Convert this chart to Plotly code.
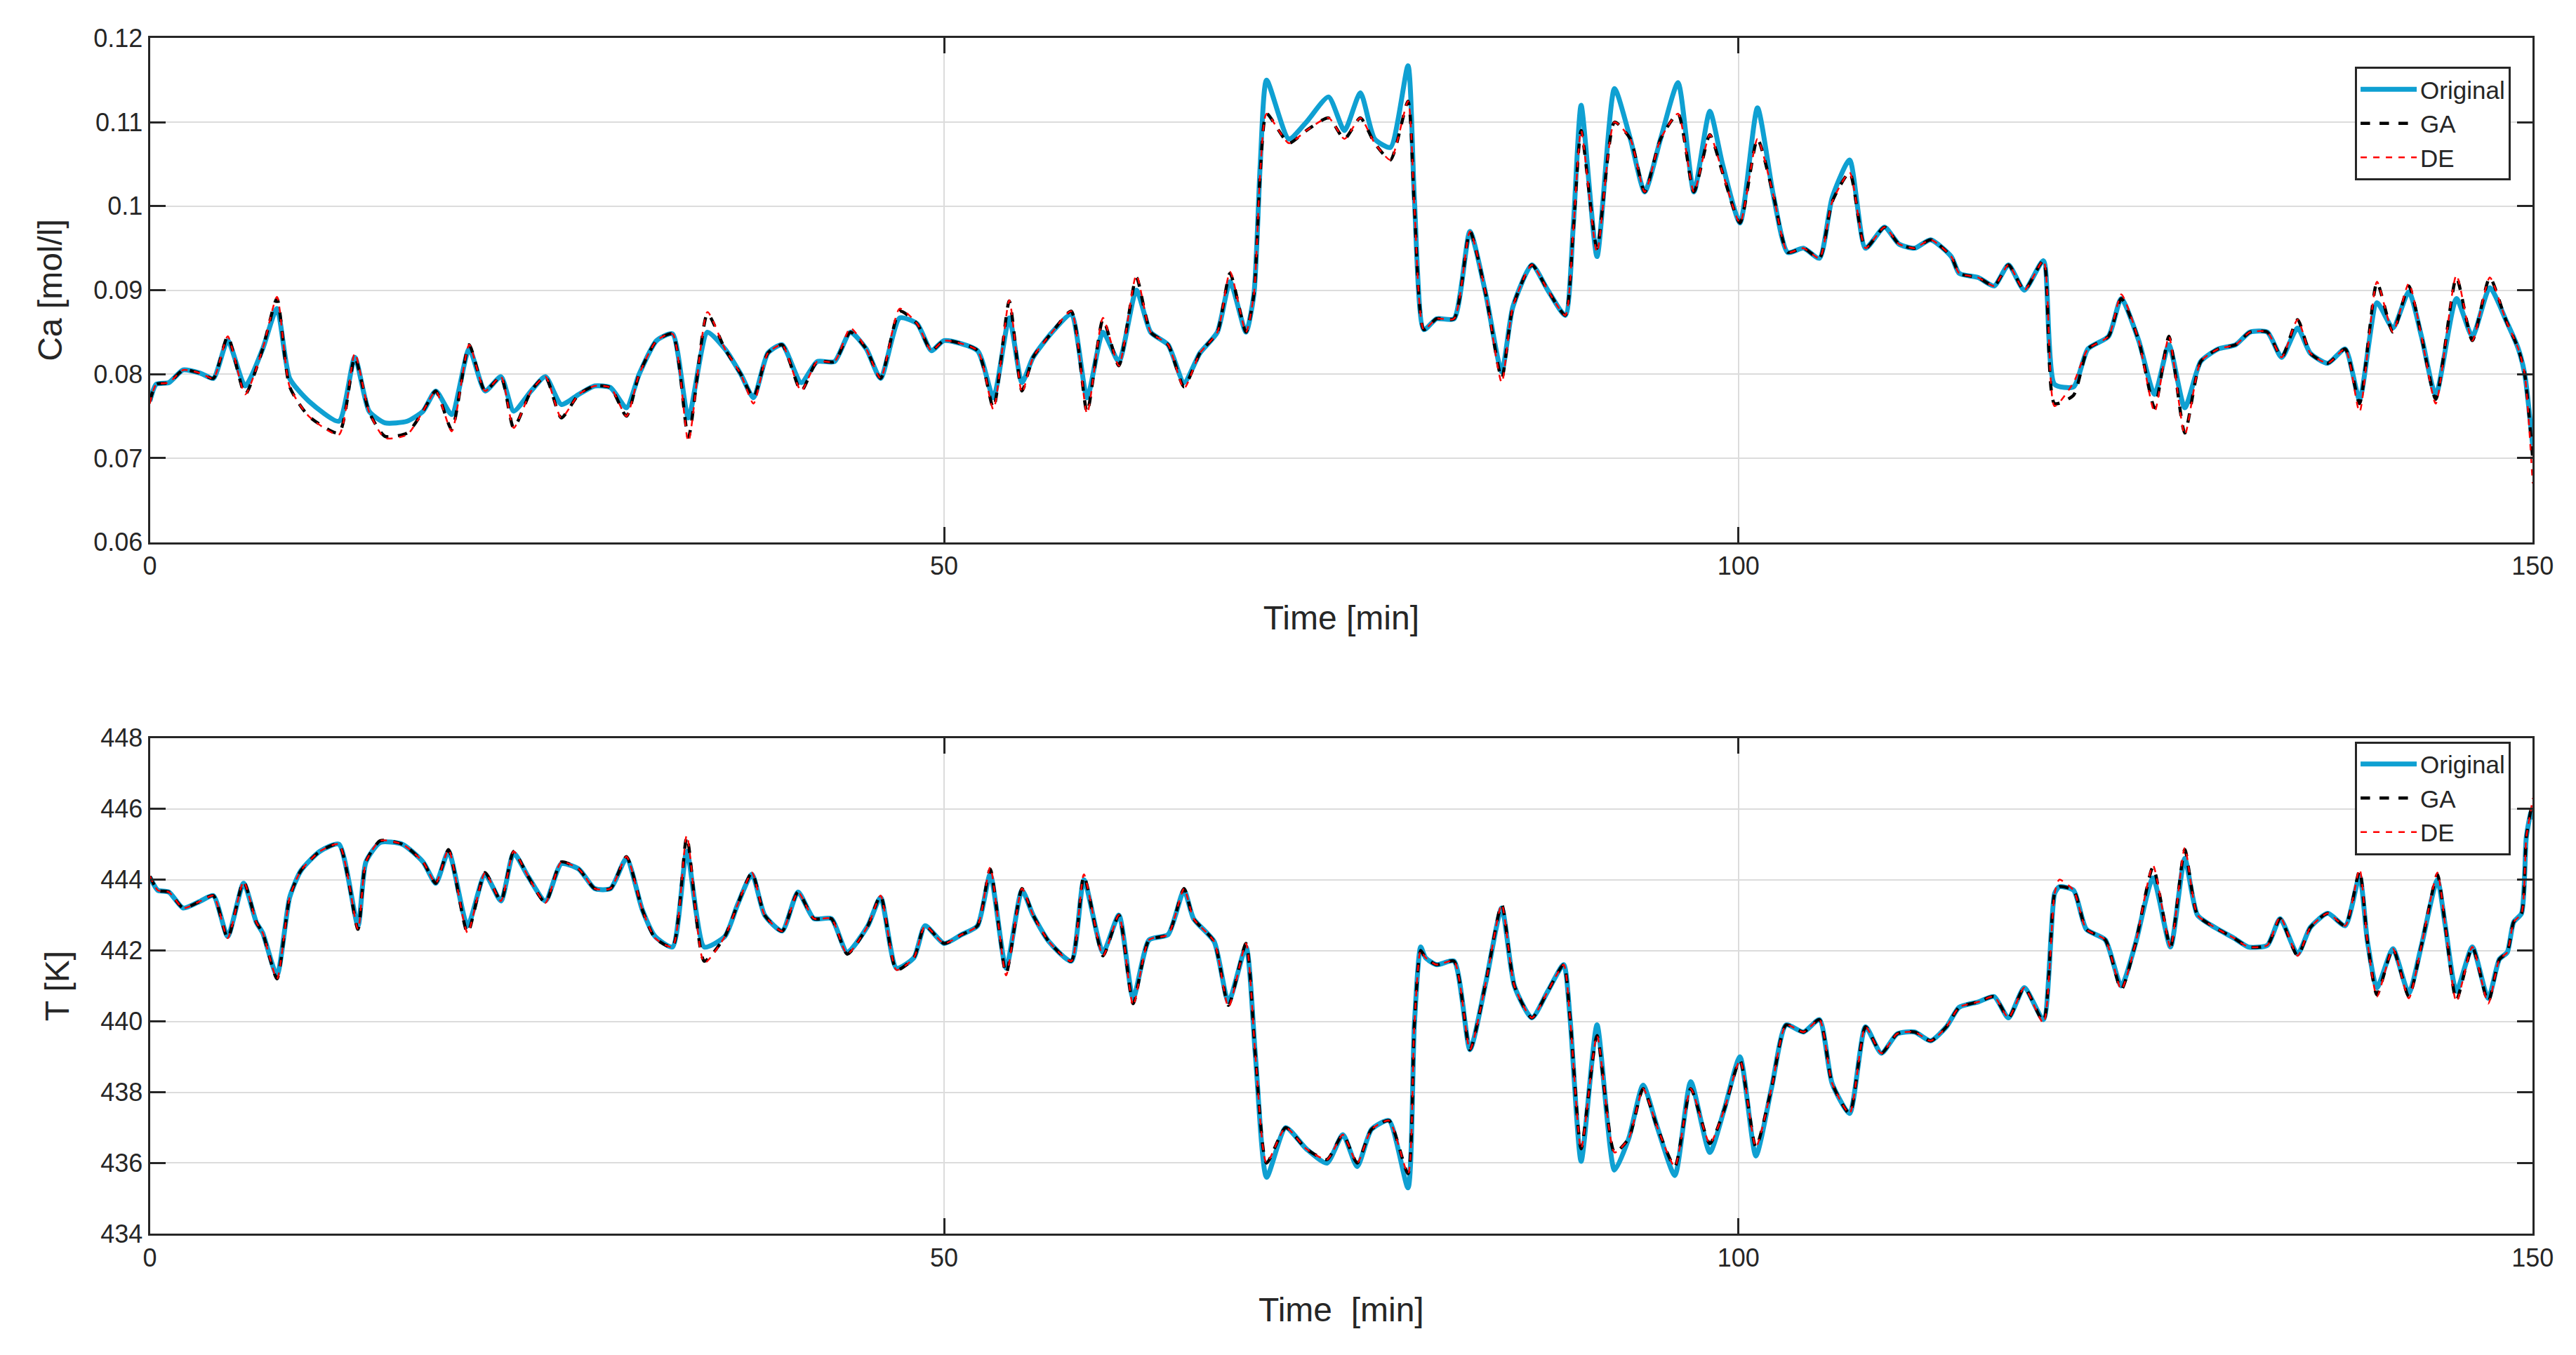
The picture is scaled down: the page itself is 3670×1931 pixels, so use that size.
import plotly.graph_objects as go
from plotly.subplots import make_subplots

# Ca panel
t_ca = [0, 0.4, 1.2, 2.1, 3.2, 4.0, 4.9, 6.0, 7.1, 8.0, 8.8, 10.0, 11.9, 12.9, 13.8, 14.8, 16.2, 17.2, 18.0, 19.0,
        20.1, 21.1, 22.1, 22.9, 24.0, 24.9, 25.9, 27.0, 28.0, 29.0, 30.0, 30.8, 31.9, 32.9, 33.9, 35.1, 36.2, 37.2, 38.0, 38.9,
        39.8, 41.0, 42.0, 43.1, 44.1, 45.1, 46.0, 47.2, 48.3, 49.2, 50.0, 52.1, 53.1, 54.1, 54.9, 55.6, 56.8, 58.0, 59.0, 60.0,
        61.0, 62.1, 63.0, 64.1, 65.1, 66.1, 67.2, 68.0, 69.0, 69.5, 69.9, 70.3, 71.7, 72.8, 74.2, 75.2, 76.2, 77.1, 78.1, 79.2,
        79.6, 80.2, 81.0, 82.1, 83.1, 84.1, 85.1, 85.8, 87.0, 88.0, 89.1, 89.6, 90.1, 91.1, 92.2, 93.2, 94.1, 95.1, 96.2, 97.2,
        98.2, 99.0, 100.1, 101.2, 102.2, 103.1, 104.1, 105.1, 105.9, 107.0, 108.0, 109.2, 110.1, 111.1, 112.1, 113.4, 113.9, 115.1, 116.1, 117.0,
        118.0, 119.2, 119.9, 121.1, 122.0, 123.3, 124.1, 125.2, 126.2, 127.1, 128.1, 129.1, 130.2, 131.3, 132.2, 133.3, 134.2, 135.2, 136.0, 137.1,
        138.2, 139.1, 140.2, 141.2, 142.2, 143.0, 143.9, 145.2, 146.2, 147.3, 148.3, 149.1, 149.5, 150.0]
ca_orig = [0.0768, 0.0788, 0.079, 0.0805, 0.0801, 0.0795, 0.084, 0.0786, 0.083, 0.0878, 0.0795, 0.0768, 0.0744, 0.082, 0.0756, 0.0742, 0.0744, 0.0756, 0.078, 0.0752,
           0.083, 0.078, 0.0797, 0.0756, 0.078, 0.0797, 0.0764, 0.0776, 0.0786, 0.0784, 0.076, 0.080, 0.084, 0.0848, 0.0748, 0.085, 0.083, 0.080, 0.0772, 0.0825,
           0.0835, 0.079, 0.0815, 0.0815, 0.085, 0.083, 0.0795, 0.0867, 0.086, 0.0828, 0.084, 0.0828, 0.0772, 0.0867, 0.079, 0.082, 0.085, 0.0871, 0.0772, 0.085,
           0.0815, 0.090, 0.085, 0.0835, 0.079, 0.0825, 0.085, 0.091, 0.085, 0.0895, 0.105, 0.115, 0.108, 0.110, 0.113, 0.109, 0.1135, 0.108, 0.107, 0.1167,
           0.101, 0.0853, 0.0866, 0.0866, 0.097, 0.0895, 0.0803, 0.088, 0.093, 0.090, 0.087, 0.0975, 0.112, 0.094, 0.114, 0.108, 0.1017, 0.108, 0.1147, 0.1017,
           0.1113, 0.105, 0.098, 0.1117, 0.1013, 0.0945, 0.095, 0.0938, 0.101, 0.1055, 0.095, 0.0975, 0.0955, 0.095, 0.096, 0.094, 0.092, 0.0915, 0.0905, 0.093,
           0.090, 0.0935, 0.0788, 0.0785, 0.083, 0.0845, 0.089, 0.084, 0.0776, 0.0835, 0.076, 0.0815, 0.083, 0.0835, 0.085, 0.085, 0.082, 0.0855, 0.0825, 0.0813,
           0.083, 0.077, 0.0885, 0.0855, 0.0898, 0.0845, 0.0775, 0.089, 0.0845, 0.0903, 0.0865, 0.083, 0.080, 0.0715]
ca_ga = [0.0768, 0.0788, 0.079, 0.0805, 0.0801, 0.0795, 0.0845, 0.0776, 0.083, 0.089, 0.0785, 0.075, 0.073, 0.082, 0.0755, 0.0726, 0.073, 0.0756, 0.078, 0.0734,
         0.0835, 0.078, 0.0797, 0.0736, 0.078, 0.0797, 0.0748, 0.0776, 0.0786, 0.0784, 0.075, 0.080, 0.084, 0.0848, 0.0725, 0.0872, 0.083, 0.080, 0.0772, 0.0825,
         0.0835, 0.078, 0.0815, 0.0815, 0.085, 0.083, 0.0795, 0.0875, 0.086, 0.0828, 0.084, 0.0828, 0.076, 0.0887, 0.078, 0.082, 0.085, 0.0875, 0.0755, 0.0865,
         0.081, 0.0915, 0.085, 0.0835, 0.0785, 0.0825, 0.085, 0.092, 0.085, 0.0895, 0.104, 0.111, 0.1075, 0.109, 0.1105, 0.108, 0.1105, 0.1075, 0.1055, 0.1125,
         0.100, 0.0853, 0.0866, 0.0866, 0.097, 0.0895, 0.0795, 0.088, 0.093, 0.090, 0.087, 0.097, 0.109, 0.095, 0.110, 0.108, 0.1017, 0.108, 0.111, 0.1017,
         0.1085, 0.104, 0.098, 0.108, 0.1013, 0.0945, 0.095, 0.0938, 0.1005, 0.104, 0.095, 0.0975, 0.0955, 0.095, 0.096, 0.094, 0.092, 0.0915, 0.0905, 0.093,
         0.090, 0.0935, 0.0765, 0.0775, 0.083, 0.0845, 0.089, 0.084, 0.076, 0.0845, 0.073, 0.0815, 0.083, 0.0835, 0.085, 0.085, 0.082, 0.0865, 0.0825, 0.0813,
         0.083, 0.0765, 0.0909, 0.085, 0.0905, 0.0845, 0.077, 0.0915, 0.084, 0.0915, 0.0865, 0.083, 0.080, 0.070]
ca_de = [0.0765, 0.0788, 0.079, 0.0805, 0.0801, 0.0795, 0.0845, 0.0776, 0.083, 0.0892, 0.0785, 0.075, 0.0728, 0.0825, 0.0755, 0.0724, 0.0728, 0.0756, 0.078, 0.0732,
         0.0835, 0.078, 0.0797, 0.0736, 0.078, 0.0797, 0.0748, 0.0776, 0.0786, 0.0784, 0.075, 0.080, 0.084, 0.0848, 0.072, 0.0874, 0.083, 0.080, 0.0765, 0.0825,
         0.0835, 0.078, 0.0815, 0.0815, 0.0855, 0.083, 0.0795, 0.0878, 0.086, 0.0828, 0.084, 0.0828, 0.0758, 0.0888, 0.0778, 0.082, 0.085, 0.0875, 0.0753, 0.0867,
         0.081, 0.0918, 0.085, 0.0835, 0.0783, 0.0825, 0.085, 0.0922, 0.085, 0.0895, 0.104, 0.111, 0.1075, 0.109, 0.1105, 0.108, 0.1105, 0.1075, 0.1055, 0.1125,
         0.100, 0.0853, 0.0866, 0.0866, 0.097, 0.0895, 0.079, 0.088, 0.093, 0.090, 0.087, 0.097, 0.109, 0.0945, 0.110, 0.108, 0.1017, 0.108, 0.111, 0.1017,
         0.1085, 0.104, 0.098, 0.108, 0.1013, 0.0945, 0.095, 0.0938, 0.1005, 0.104, 0.095, 0.0975, 0.0955, 0.095, 0.096, 0.094, 0.092, 0.0915, 0.0905, 0.093,
         0.090, 0.0935, 0.0762, 0.079, 0.083, 0.0845, 0.0895, 0.084, 0.0755, 0.0845, 0.0728, 0.0815, 0.083, 0.0835, 0.085, 0.085, 0.082, 0.0865, 0.0825, 0.0813,
         0.083, 0.0755, 0.091, 0.085, 0.0908, 0.0845, 0.0765, 0.0918, 0.084, 0.0915, 0.0865, 0.083, 0.080, 0.067]
ca_ticks = [0.06, 0.07, 0.08, 0.09, 0.1, 0.11, 0.12]
ca_ticktext = ["0.06", "0.07", "0.08", "0.09", "0.1", "0.11", "0.12"]

# T panel
t_T = [0, 0.5, 1.2, 2.1, 3.2, 4.0, 4.9, 5.9, 6.7, 7.1, 8.0, 8.8, 9.5, 10.7, 11.9, 13.1, 13.6, 14.5, 15.9, 17.2,
       18.0, 18.8, 20.0, 21.1, 22.1, 22.9, 23.8, 24.9, 25.9, 27.0, 28.0, 29.0, 30.0, 31.0, 31.8, 32.9, 33.8, 34.9, 36.2, 37.0,
       37.9, 38.7, 39.8, 40.8, 41.8, 42.9, 43.9, 45.2, 46.0, 47.0, 48.1, 48.8, 50.0, 51.1, 52.1, 52.9, 53.9, 54.9, 55.6, 56.6,
       58.0, 58.8, 60.0, 61.0, 61.9, 62.9, 64.1, 65.1, 65.7, 67.0, 67.9, 69.0, 69.6, 70.3, 71.5, 72.8, 74.1, 75.1, 76.0, 76.9,
       78.0, 79.2, 79.6, 80.0, 80.3, 81.0, 82.1, 83.1, 84.1, 85.1, 85.9, 87.0, 88.0, 89.0, 89.4, 90.1, 91.1, 92.2, 93.1, 94.0,
       94.9, 96.0, 97.0, 98.2, 99.1, 100.1, 101.1, 102.1, 103.0, 104.1, 105.1, 105.9, 107.0, 108.0, 109.0, 110.0, 111.1, 112.1, 113.1, 113.9,
       115.1, 116.1, 117.0, 118.0, 119.2, 119.9, 120.2, 121.1, 121.9, 123.1, 124.1, 125.0, 126.1, 127.2, 128.1, 128.9, 130.0, 131.2, 132.1, 133.3,
       134.1, 135.2, 136.0, 137.1, 138.2, 139.1, 139.6, 140.2, 141.2, 142.2, 143.0, 144.0, 144.5, 145.2, 146.2, 147.2, 147.9, 148.4, 148.8, 149.3,
       149.6, 149.9, 150.0]
T_orig = [444.07, 443.7, 443.65, 443.2, 443.4, 443.55, 442.4, 443.9, 442.8, 442.5, 441.3, 443.5, 444.25, 444.8, 445.0, 442.7, 444.5, 445.05, 445.0, 444.5,
          443.9, 444.8, 442.7, 444.15, 443.4, 444.75, 444.1, 443.4, 444.45, 444.3, 443.75, 443.75, 444.6, 443.15, 442.4, 442.1, 444.8, 442.1, 442.4, 443.3,
          444.15, 443.0, 442.55, 443.65, 442.9, 442.9, 441.95, 442.7, 443.5, 441.5, 441.8, 442.7, 442.2, 442.45, 442.7, 444.15, 441.5, 443.7, 443.0, 442.25,
          441.7, 444.0, 441.95, 443.0, 440.65, 442.3, 442.45, 443.7, 442.9, 442.25, 440.55, 442.1, 439.0, 435.6, 437.0, 436.4, 436.0, 436.8, 435.9, 436.95,
          437.2, 435.3, 439.9, 442.1, 441.8, 441.6, 441.7, 439.2, 441.1, 443.2, 441.0, 440.1, 440.85, 441.6, 440.1, 436.05, 439.9, 435.8, 436.7, 438.2,
          437.0, 435.65, 438.3, 436.3, 437.5, 439.0, 436.2, 438.15, 439.9, 439.7, 440.05, 438.25, 437.4, 439.85, 439.1, 439.65, 439.7, 439.45, 439.85, 440.4,
          440.55, 440.7, 440.1, 440.95, 440.05, 443.6, 443.8, 443.7, 442.6, 442.3, 441.0, 442.2, 444.05, 442.1, 444.6, 443.0, 442.65, 442.35, 442.1, 442.15,
          442.9, 441.9, 442.65, 443.05, 442.7, 444.1, 442.25, 440.95, 442.05, 440.8, 442.15, 444.0, 442.7, 440.85, 442.1, 440.65, 441.75, 441.95, 442.8, 443.05,
          445.2, 445.9, 445.7]
T_ga = [444.1, 443.7, 443.65, 443.2, 443.4, 443.55, 442.35, 443.95, 442.8, 442.5, 441.2, 443.5, 444.25, 444.8, 445.0, 442.6, 444.5, 445.1, 445.0, 444.5,
        443.9, 444.85, 442.5, 444.2, 443.4, 444.8, 444.1, 443.35, 444.5, 444.3, 443.75, 443.75, 444.65, 443.15, 442.35, 442.1, 445.2, 441.7, 442.4, 443.3,
        444.2, 443.0, 442.55, 443.65, 442.9, 442.9, 441.9, 442.7, 443.55, 441.45, 441.8, 442.7, 442.2, 442.45, 442.7, 444.3, 441.35, 443.75, 443.0, 442.25,
        441.7, 444.1, 441.85, 443.0, 440.5, 442.3, 442.45, 443.75, 442.9, 442.25, 440.45, 442.2, 439.0, 436.0, 437.0, 436.4, 436.1, 436.8, 436.0, 436.95,
        437.2, 435.7, 439.9, 442.0, 441.8, 441.6, 441.7, 439.2, 441.1, 443.3, 441.0, 440.1, 440.85, 441.6, 440.1, 436.4, 439.6, 436.3, 436.7, 438.1,
        437.0, 435.9, 438.1, 436.55, 437.5, 438.9, 436.45, 438.15, 439.9, 439.7, 440.05, 438.25, 437.4, 439.85, 439.1, 439.65, 439.7, 439.45, 439.85, 440.4,
        440.55, 440.7, 440.1, 440.95, 440.0, 443.6, 443.8, 443.7, 442.6, 442.3, 440.9, 442.2, 444.35, 442.1, 444.85, 443.0, 442.65, 442.35, 442.1, 442.15,
        442.9, 441.85, 442.65, 443.05, 442.7, 444.25, 442.25, 440.75, 442.05, 440.7, 442.15, 444.15, 442.7, 440.6, 442.1, 440.55, 441.75, 441.95, 442.8, 443.05,
        445.2, 446.0, 446.2]
T_de = [444.1, 443.7, 443.65, 443.2, 443.4, 443.55, 442.35, 443.95, 442.8, 442.5, 441.2, 443.5, 444.25, 444.8, 445.0, 442.6, 444.5, 445.1, 445.0, 444.5,
        443.9, 444.85, 442.5, 444.2, 443.4, 444.8, 444.1, 443.35, 444.5, 444.3, 443.75, 443.75, 444.65, 443.15, 442.35, 442.1, 445.25, 441.65, 442.4, 443.3,
        444.2, 443.0, 442.55, 443.65, 442.9, 442.9, 441.9, 442.7, 443.55, 441.45, 441.8, 442.7, 442.2, 442.45, 442.7, 444.35, 441.3, 443.75, 443.0, 442.25,
        441.7, 444.15, 441.85, 443.0, 440.45, 442.3, 442.45, 443.75, 442.9, 442.25, 440.4, 442.2, 439.0, 436.0, 437.0, 436.4, 436.1, 436.8, 436.0, 436.95,
        437.2, 435.7, 439.9, 442.0, 441.8, 441.6, 441.7, 439.2, 441.1, 443.3, 441.0, 440.1, 440.85, 441.6, 440.1, 436.4, 439.6, 436.3, 436.7, 438.1,
        437.0, 435.9, 438.1, 436.55, 437.5, 438.9, 436.45, 438.15, 439.9, 439.7, 440.05, 438.25, 437.4, 439.85, 439.1, 439.65, 439.7, 439.45, 439.85, 440.4,
        440.55, 440.7, 440.1, 440.95, 439.95, 443.6, 444.0, 443.7, 442.6, 442.3, 440.9, 442.2, 444.4, 442.1, 444.9, 443.0, 442.65, 442.35, 442.1, 442.15,
        442.95, 441.85, 442.65, 443.05, 442.7, 444.3, 442.25, 440.7, 442.05, 440.65, 442.15, 444.2, 442.7, 440.55, 442.1, 440.5, 441.75, 441.95, 442.8, 443.05,
        445.2, 446.0, 446.3]

for arr in (ca_orig, ca_ga, ca_de):
    assert len(arr) == len(t_ca), (len(arr), len(t_ca))
for arr in (T_orig, T_ga, T_de):
    assert len(arr) == len(t_T), (len(arr), len(t_T))

blue = "rgb(15,160,210)"
font = "Liberation Sans, Arial, sans-serif"

fig = make_subplots(rows=2, cols=1)

panels = [(1, t_ca, ca_orig, ca_ga, ca_de, "legend"), (2, t_T, T_orig, T_ga, T_de, "legend2")]
for row, tt, orig, ga, de, leg in panels:
    fig.add_trace(go.Scatter(x=tt, y=orig, name="Original", mode="lines", legend=leg,
                             line=dict(color=blue, width=7, shape="spline", smoothing=0.6)), row=row, col=1)
    fig.add_trace(go.Scatter(x=tt, y=ga, name="GA", mode="lines", legend=leg,
                             line=dict(color="black", width=4.5, dash="dash", shape="spline", smoothing=0.6)), row=row, col=1)
    fig.add_trace(go.Scatter(x=tt, y=de, name="DE", mode="lines", legend=leg,
                             line=dict(color="red", width=2.5, dash="dash", shape="spline", smoothing=0.6)), row=row, col=1)

axis_common = dict(showline=True, linecolor="#262626", linewidth=3, mirror="ticks", ticks="inside",
                   ticklen=22, tickwidth=3, tickcolor="#262626", showgrid=True, gridcolor="#dcdcdc", gridwidth=2,
                   zeroline=False, automargin=False, tickfont=dict(family=font, size=36, color="#262626"),
                   title_font=dict(family=font, size=48, color="#262626"))

fig.update_xaxes(axis_common, range=[0, 150], tickvals=[0, 50, 100, 150], title_standoff=38)
fig.update_xaxes(title_text="Time [min]", domain=[0.056, 0.981], row=1, col=1)
fig.update_xaxes(title_text="Time  [min]", domain=[0.056, 0.981], row=2, col=1)
fig.update_yaxes(axis_common, title_standoff=30)
fig.update_yaxes(title_text="Ca [mol/l]", range=[0.06, 0.12], tickvals=ca_ticks, ticktext=ca_ticktext,
                 domain=[0.604, 0.976], row=1, col=1)
fig.update_yaxes(title_text="T [K]", range=[434, 448], dtick=2, domain=[0.0935, 0.4595], row=2, col=1)

legend_common = dict(xanchor="right", yanchor="top", bgcolor="white", bordercolor="#262626", borderwidth=3,
                     font=dict(family=font, size=35, color="#262626"), itemwidth=80, tracegroupgap=0)
fig.update_layout(
    width=3670, height=1931,
    margin=dict(l=0, r=0, t=0, b=0),
    plot_bgcolor="white", paper_bgcolor="white",
    legend=dict(legend_common, x=0.9725, y=0.955),
    legend2=dict(legend_common, x=0.9725, y=0.457),
)

fig.write_html("out.html")
